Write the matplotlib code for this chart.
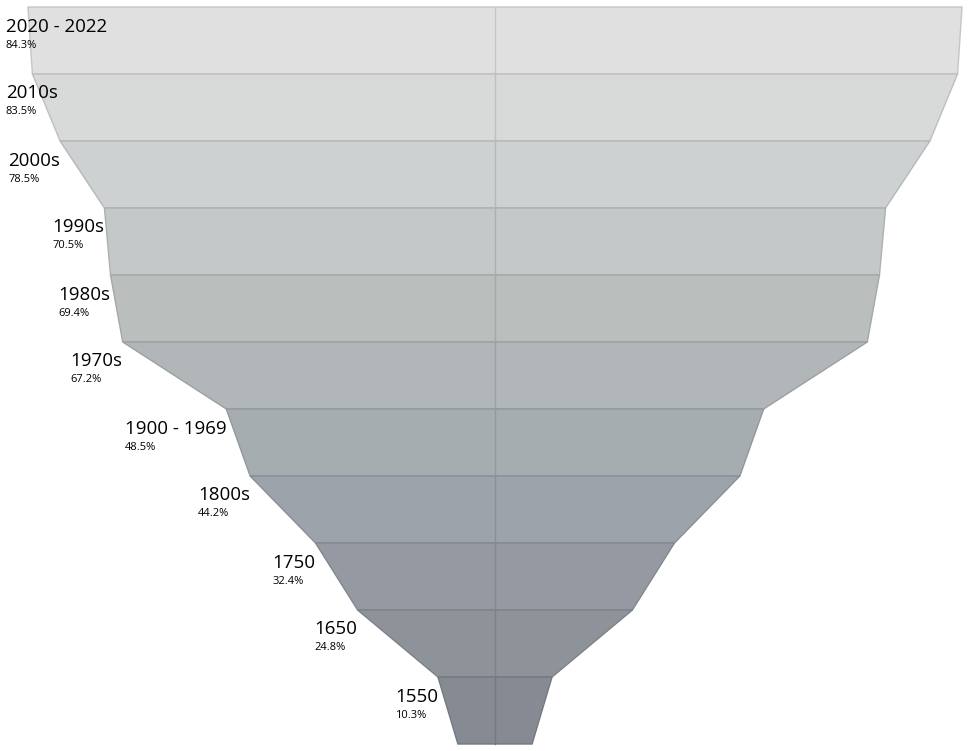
import matplotlib

matplotlib.use("Agg")
import matplotlib.pyplot as plt
import numpy as np
from matplotlib.colors import to_rgb
from matplotlib.patches import Polygon

periods = [
    "2020 - 2022", "2010s", "2000s", "1990s", "1980s", "1970s",
    "1900 - 1969", "1800s", "1750", "1650", "1550",
]
shares = [84.3, 83.5, 78.5, 70.5, 69.4, 67.2, 48.5, 44.2, 32.4, 24.8, 10.3]

NECK = 0.65  # bottom of the last segment, relative to its top
fills = [
    "#e0e0e0", "#d8d9d9", "#cdd1d1", "#c4c8c8", "#babfbe", "#b1b6b8",
    "#a6adb0", "#9ca3aa", "#959aa2", "#8e939a", "#858a93",
]

fig = plt.figure(figsize=(9.7, 7.51), dpi=100)
ax = fig.add_axes([0, 0, 1, 1])
ax.set_axis_off()

# pixel layout: centre at x=495, 5.54 px per percent, rows 67 px high from y=7
px_per_pct = 5.54
ax.set_xlim(-495 / px_per_pct, (970 - 495) / px_per_pct)
ax.set_ylim((751 - 7) / 67, -7 / 67)

bottoms = shares[1:] + [shares[-1] * NECK]

fig.canvas.draw()
renderer = fig.canvas.get_renderer()
to_px = ax.transData
to_data = ax.transData.inverted()

for i, (name, top, bottom) in enumerate(zip(periods, shares, bottoms)):
    fill = np.array(to_rgb(fills[i]))
    edge = fill * 0.88
    poly = Polygon(
        [(-top, i), (top, i), (bottom, i + 1), (-bottom, i + 1)],
        closed=True, facecolor=fill, edgecolor=edge, linewidth=1.0,
    )
    ax.add_patch(poly)
    ax.plot([0, 0], [i, i + 1], color=edge, linewidth=1.0)

    # label sits just left of the segment's top-left corner, kept inside the figure
    lbl = ax.text(0, 0, name, fontsize=13.5, family="Open Sans", color="#000000",
                  va="center", ha="left")
    w = lbl.get_window_extent(renderer).width
    corner_px = to_px.transform((-top, i))[0]
    x_px = max(6, corner_px - w)
    x_data = to_data.transform((x_px, 0))[0]
    lbl.set_position((x_data, i + 19.5 / 67))
    ax.text(
        x_data, i + 38 / 67, f"{top}%", fontsize=8, family="Open Sans",
        color="#000000", va="center", ha="left",
    )

fig.savefig("out.png", dpi=100)
